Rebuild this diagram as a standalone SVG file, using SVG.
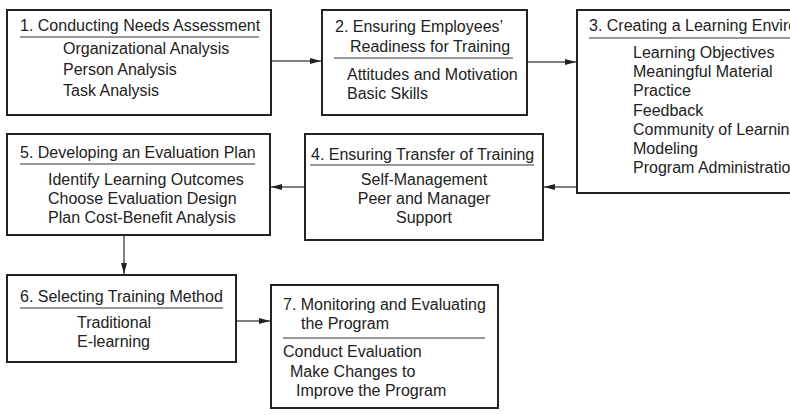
<svg xmlns="http://www.w3.org/2000/svg" width="790" height="415" viewBox="0 0 790 415">
<defs>
<style>
.box{fill:#fff;stroke:#222;stroke-width:2}
.ul{stroke:#777;stroke-width:1.5}
.t{font-family:"Liberation Sans",Arial,sans-serif;font-size:16px;fill:#222}
.c{stroke:#555;stroke-width:1.5;fill:none;marker-end:url(#ah)}
</style>
<marker id="ah" markerUnits="userSpaceOnUse" markerWidth="11" markerHeight="6" refX="11" refY="3" orient="auto">
<path d="M0,0 L11,3 L0,6 z" fill="#222"/>
</marker>
</defs>
<rect width="790" height="415" fill="#fff"/>
<g id="connectors">
<line class="c" x1="272" y1="61" x2="321" y2="61"/>
<line class="c" x1="528" y1="62" x2="576" y2="62"/>
<line class="c" x1="576" y1="187" x2="544" y2="187"/>
<line class="c" x1="304" y1="187" x2="271" y2="187"/>
<line class="c" x1="124" y1="235" x2="124" y2="274"/>
<line class="c" x1="237" y1="321" x2="270" y2="321"/>
</g>
<g id="node1">
<rect class="box" x="7" y="10" width="264" height="105"/>
<text class="t" x="20" y="31">1. Conducting Needs Assessment</text>
<line class="ul" x1="20" y1="37" x2="259" y2="37"/>
<text class="t" x="63" y="54">Organizational Analysis</text>
<text class="t" x="63" y="75">Person Analysis</text>
<text class="t" x="63" y="96">Task Analysis</text>
</g>
<g id="node2">
<rect class="box" x="322" y="10" width="205" height="105"/>
<text class="t" x="335" y="32">2. Ensuring Employees’</text>
<text class="t" x="350" y="52">Readiness for Training</text>
<line class="ul" x1="334" y1="58" x2="513" y2="58"/>
<text class="t" x="347" y="80">Attitudes and Motivation</text>
<text class="t" x="347" y="99">Basic Skills</text>
</g>
<g id="node3">
<rect class="box" x="577" y="10" width="230" height="183"/>
<text class="t" x="589" y="31">3. Creating a Learning Environment</text>
<line class="ul" x1="589" y1="38" x2="800" y2="38"/>
<text class="t" x="633" y="58">Learning Objectives</text>
<text class="t" x="633" y="77">Meaningful Material</text>
<text class="t" x="633" y="96">Practice</text>
<text class="t" x="633" y="116">Feedback</text>
<text class="t" x="633" y="135">Community of Learning</text>
<text class="t" x="633" y="154">Modeling</text>
<text class="t" x="633" y="173">Program Administration</text>
</g>
<g id="node4">
<rect class="box" x="305" y="134" width="238" height="106"/>
<text class="t" x="311" y="160">4. Ensuring Transfer of Training</text>
<line class="ul" x1="310" y1="165" x2="534" y2="165"/>
<text class="t" x="424" y="185" text-anchor="middle">Self-Management</text>
<text class="t" x="424" y="204" text-anchor="middle">Peer and Manager</text>
<text class="t" x="424" y="223" text-anchor="middle">Support</text>
</g>
<g id="node5">
<rect class="box" x="7" y="134" width="263" height="101"/>
<text class="t" x="20" y="158">5. Developing an Evaluation Plan</text>
<line class="ul" x1="20" y1="164" x2="255" y2="164"/>
<text class="t" x="48" y="185">Identify Learning Outcomes</text>
<text class="t" x="48" y="204">Choose Evaluation Design</text>
<text class="t" x="48" y="223">Plan Cost-Benefit Analysis</text>
</g>
<g id="node6">
<rect class="box" x="7" y="275" width="229" height="87"/>
<text class="t" x="20" y="302">6. Selecting Training Method</text>
<line class="ul" x1="20" y1="308" x2="223" y2="308"/>
<text class="t" x="77" y="328">Traditional</text>
<text class="t" x="77" y="347">E-learning</text>
</g>
<g id="node7">
<rect class="box" x="271" y="285" width="227" height="123"/>
<text class="t" x="283" y="310">7. Monitoring and Evaluating</text>
<text class="t" x="301" y="329">the Program</text>
<line class="ul" x1="283" y1="338" x2="485" y2="338"/>
<text class="t" x="283" y="357">Conduct Evaluation</text>
<text class="t" x="290" y="377">Make Changes to</text>
<text class="t" x="296" y="396">Improve the Program</text>
</g>
</svg>
